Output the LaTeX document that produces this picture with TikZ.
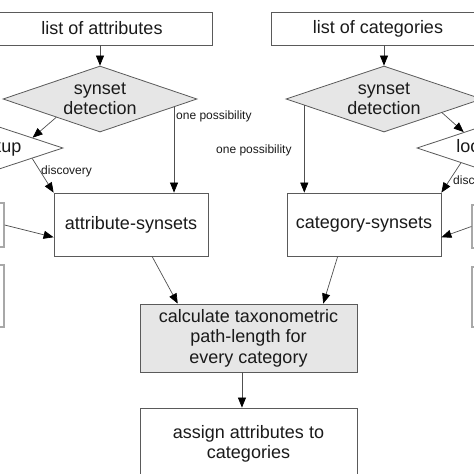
\documentclass[tikz,border=0pt]{standalone}
\usepackage{fontspec}
\setmainfont{Liberation Sans}
\usetikzlibrary{shapes.geometric,arrows.meta,calc}
\definecolor{boxc}{HTML}{5A5A5A}
\definecolor{linec}{HTML}{505050}
\definecolor{fillg}{HTML}{E6E6E6}
\definecolor{txt}{HTML}{1A1A1A}
\definecolor{cutc}{HTML}{A8A8A8}
\newcommand\bigf{\fontsize{18}{20.5}\selectfont}
\newcommand\smallf{\fontsize{12}{14}\selectfont}
\begin{document}
\begin{tikzpicture}[x=1pt,y=-1pt,
  box/.style={draw=boxc, line width=0.8pt, rectangle, inner sep=0pt, align=center, font=\bigf, text=txt, fill=white},
  gbox/.style={box, fill=fillg},
  cutbox/.style={draw=cutc, line width=1.2pt, rectangle, inner sep=0pt, fill=white},
  dia/.style={draw=boxc, line width=0.8pt, diamond, inner sep=0pt, fill=fillg},
  wdia/.style={dia, fill=white},
  dlab/.style={align=center, font=\bigf, text=txt},
  lbl/.style={font=\smallf, text=txt, inner sep=0pt},
  arr/.style={draw=linec, line width=0.7pt, -{Triangle[length=10pt,width=8pt,color=black]}}
]
\useasboundingbox (0,0) rectangle (474,474);
\fill[white] (0,0) rectangle (474,474);
\clip (0,0) rectangle (474,474);

% top boxes
\node[box, minimum width=220pt, minimum height=33pt] (A) at (102,28.5) {list of attributes};
\node[box, minimum width=214pt, minimum height=33pt] (C) at (378,28.5) {list of categories};

% synset detection diamonds
\node[dia, minimum width=194pt, minimum height=66pt, label={[dlab]center:synset\\detection}] (D1) at (100,99) {};
\node[dia, minimum width=196pt, minimum height=66pt, label={[dlab]center:synset\\detection}] (D2) at (384,99) {};

% lookup diamonds (cut by the border)
\node[wdia, minimum width=136pt, minimum height=45pt, label={[dlab]center:lookup}] (L1) at (-5,148) {};
\node[wdia, minimum width=132pt, minimum height=44pt, label={[dlab]center:lookup}] (L2) at (483,148) {};

% synset boxes
\node[box, minimum width=154pt, minimum height=63pt] (AS) at (131,224.5) {attribute-synsets};
\node[box, minimum width=154pt, minimum height=63pt] (CS) at (364,224.5) {category-synsets};

% cut boxes at the sides
\node[cutbox, minimum width=88pt, minimum height=44pt] (LB1) at (-40,225) {};
\node[cutbox, minimum width=88pt, minimum height=62pt] (LB2) at (-40,296) {};
\node[cutbox, minimum width=88pt, minimum height=43pt] (RB1) at (516,226.5) {};
\node[cutbox, minimum width=88pt, minimum height=60pt] (RB2) at (516,297) {};

% lower boxes
\node[gbox, minimum width=217pt, minimum height=68pt] (CALC) at (248.5,338) {calculate taxonometric\\path-length for\\every category};
\node[box, minimum width=217pt, minimum height=72pt] (ASG) at (248.5,444) {assign attributes to\\categories};

% labels
\node[lbl, anchor=west] (o1) at (176,116) {one possibility};
\node[lbl, anchor=west] (o2) at (216,150) {one possibility};
\node[lbl, anchor=west] (dc1) at (41,171) {discovery};
\node[lbl, anchor=west] (dc2) at (453,181) {discovery};

% helper coordinates
\coordinate (p1) at ($(D1.east)!0.24!(D1.south)$);
\coordinate (p2) at ($(D2.west)!0.19!(D2.south)$);

% connectors
\draw[arr] (A.south -| D1.north) -- (D1.north);
\draw[arr] (C.south -| D2.north) -- (D2.north);
\draw[arr] ($(D1.west)!0.55!(D1.south)$) -- ($(L1.east)!0.45!(L1.north)$);
\draw[arr] ($(D2.east)!0.41!(D2.south)$) -- ($(L2.west)!0.71!(L2.north)$);
\draw[arr] (p1) -- (p1 |- AS.north);
\draw[arr] (p2) -- (p2 |- CS.north);
\draw[arr] ($(L1.east)!0.456!(L1.south)$) -- (AS.north west);
\draw[arr] ($(L2.west)!0.667!(L2.south)$) -- (CS.north east);
\draw[arr] (LB1.east) -- ($(AS.south west)!0.3!(AS.north west)$);
\draw[arr] (RB1.west) -- ($(CS.south east)!0.3!(CS.north east)$);
\draw[arr] ($(AS.south west)!0.636!(AS.south east)$) -- ($(CALC.north west)!0.175!(CALC.north east)$);
\draw[arr] ($(CS.south west)!0.33!(CS.south east)$) -- ($(CALC.north west)!0.843!(CALC.north east)$);
\draw[arr] ($(CALC.south west)!0.47!(CALC.south east)$) -- ($(ASG.north west)!0.47!(ASG.north east)$);
\end{tikzpicture}
\end{document}
